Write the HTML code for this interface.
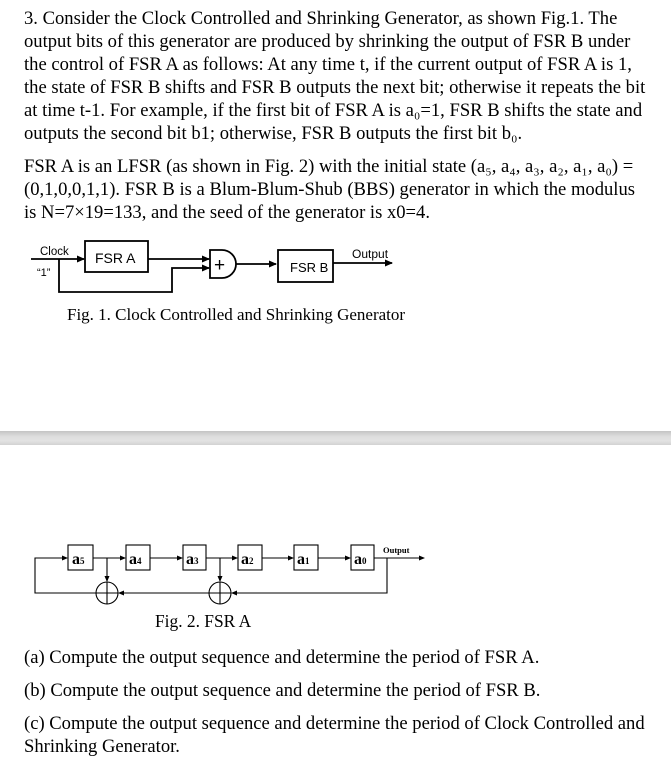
<!DOCTYPE html>
<html><head><meta charset="utf-8"><style>
body{margin:0;width:671px;height:778px;background:#fff;position:relative;overflow:hidden;font-family:"Liberation Serif",serif;color:#000}
.l{position:absolute;left:24px;font-size:18.6px;white-space:nowrap;line-height:20px}
.band{position:absolute;left:0;top:431px;width:671px;height:14px;background:linear-gradient(#c4c4c4,#dedede 40%,#e2e2e2 70%,#d2d2d2)}
svg{position:absolute;left:0;top:0}
</style></head><body>
<div class="l" style="top:9px">3. Consider the Clock Controlled and Shrinking Generator, as shown Fig.1. The</div>
<div class="l" style="top:32px">output bits of this generator are produced by shrinking the output of FSR B under</div>
<div class="l" style="top:55px">the control of FSR A as follows: At any time t, if the current output of FSR A is 1,</div>
<div class="l" style="top:78px">the state of FSR B shifts and FSR B outputs the next bit; otherwise it repeats the bit</div>
<div class="l" style="top:101px">at time t-1. For example, if the first bit of FSR A is a₀=1, FSR B shifts the state and</div>
<div class="l" style="top:124px">outputs the second bit b1; otherwise, FSR B outputs the first bit b₀.</div>
<div class="l" style="top:157px">FSR A is an LFSR (as shown in Fig. 2) with the initial state (a₅, a₄, a₃, a₂, a₁, a₀) =</div>
<div class="l" style="top:180px">(0,1,0,0,1,1). FSR B is a Blum-Blum-Shub (BBS) generator in which the modulus</div>
<div class="l" style="top:203px">is N=7×19=133, and the seed of the generator is x0=4.</div>
<div class="l" style="top:305px;left:67px;font-size:17px">Fig. 1. Clock Controlled and Shrinking Generator</div>
<div class="band"></div>
<div class="l" style="top:611px;left:155px;font-size:17.4px">Fig. 2. FSR A</div>
<div class="l" style="top:648px">(a) Compute the output sequence and determine the period of FSR A.</div>
<div class="l" style="top:681px">(b) Compute the output sequence and determine the period of FSR B.</div>
<div class="l" style="top:714px">(c) Compute the output sequence and determine the period of Clock Controlled and</div>
<div class="l" style="top:737px">Shrinking Generator.</div>
<svg width="671" height="778" viewBox="0 0 671 778">
<defs><marker id="a" markerWidth="8" markerHeight="8" refX="7" refY="4" orient="auto" markerUnits="userSpaceOnUse"><path d="M0,0.5 L8,4 L0,7.5z" fill="#000"/></marker>
<marker id="s" markerWidth="6" markerHeight="6" refX="5" refY="3" orient="auto" markerUnits="userSpaceOnUse"><path d="M0,0.5 L6,3 L0,5.5z" fill="#000"/></marker></defs>
<g stroke="#000" stroke-width="1.8" fill="none">
<line x1="31" y1="259" x2="84" y2="259" marker-end="url(#a)"/>
<rect x="85" y="241" width="63" height="31"/>
<line x1="148" y1="259" x2="209" y2="259" marker-end="url(#a)"/>
<polyline points="59,259 59,292 172,292 172,268 209,268" marker-end="url(#a)"/>
<path d="M210,250 L222,250 A14,14 0 0 1 222,278 L210,278 Z"/>
<line x1="236" y1="264" x2="276" y2="264" marker-end="url(#a)"/>
<rect x="278" y="250" width="55" height="32"/>
<line x1="333" y1="263" x2="392" y2="263" marker-end="url(#a)"/>
</g>
<g font-family="Liberation Sans,sans-serif" fill="#000">
<text x="40" y="255" font-size="11.5">Clock</text>
<text x="37" y="276" font-size="11">“1”</text>
<text x="95" y="263" font-size="14">FSR A</text>
<text x="214" y="271" font-size="19">+</text>
<text x="290" y="272" font-size="13">FSR B</text>
<text x="352" y="258" font-size="12">Output</text>
</g>
<g stroke="#000" stroke-width="1.1" fill="none">
<rect x="68" y="545" width="25" height="25"/><rect x="126" y="545" width="24" height="25"/>
<rect x="183" y="545" width="23" height="25"/><rect x="238" y="545" width="24" height="25"/>
<rect x="294" y="545" width="24" height="25"/><rect x="351" y="545" width="23" height="25"/>
<line x1="93" y1="558" x2="125" y2="558" marker-end="url(#s)"/>
<line x1="150" y1="558" x2="182" y2="558" marker-end="url(#s)"/>
<line x1="206" y1="558" x2="237" y2="558" marker-end="url(#s)"/>
<line x1="262" y1="558" x2="293" y2="558" marker-end="url(#s)"/>
<line x1="318" y1="558" x2="350" y2="558" marker-end="url(#s)"/>
<line x1="374" y1="558" x2="424" y2="558" marker-end="url(#s)"/>
<line x1="107" y1="558" x2="107" y2="581" marker-end="url(#s)"/>
<line x1="220" y1="558" x2="220" y2="581" marker-end="url(#s)"/>
<circle cx="107" cy="593" r="11"/><line x1="96" y1="593" x2="118" y2="593"/><line x1="107" y1="582" x2="107" y2="604"/>
<circle cx="220" cy="593" r="11"/><line x1="209" y1="593" x2="231" y2="593"/><line x1="220" y1="582" x2="220" y2="604"/>
<polyline points="387,558 387,593 232,593" marker-end="url(#s)"/>
<line x1="209" y1="593" x2="119" y2="593" marker-end="url(#s)"/>
<polyline points="96,593 35,593 35,558 67,558" marker-end="url(#s)"/>
</g>
<g font-family="Liberation Serif,serif" font-weight="bold" fill="#000">
<text x="72" y="564" font-size="16">a<tspan font-size="9">5</tspan></text>
<text x="129" y="564" font-size="16">a<tspan font-size="9">4</tspan></text>
<text x="186" y="564" font-size="16">a<tspan font-size="9">3</tspan></text>
<text x="241" y="564" font-size="16">a<tspan font-size="9">2</tspan></text>
<text x="297" y="564" font-size="16">a<tspan font-size="9">1</tspan></text>
<text x="354" y="564" font-size="16">a<tspan font-size="9">0</tspan></text>
<text x="383" y="553" font-size="8.5">Output</text>
</g>
</svg>
</body></html>
